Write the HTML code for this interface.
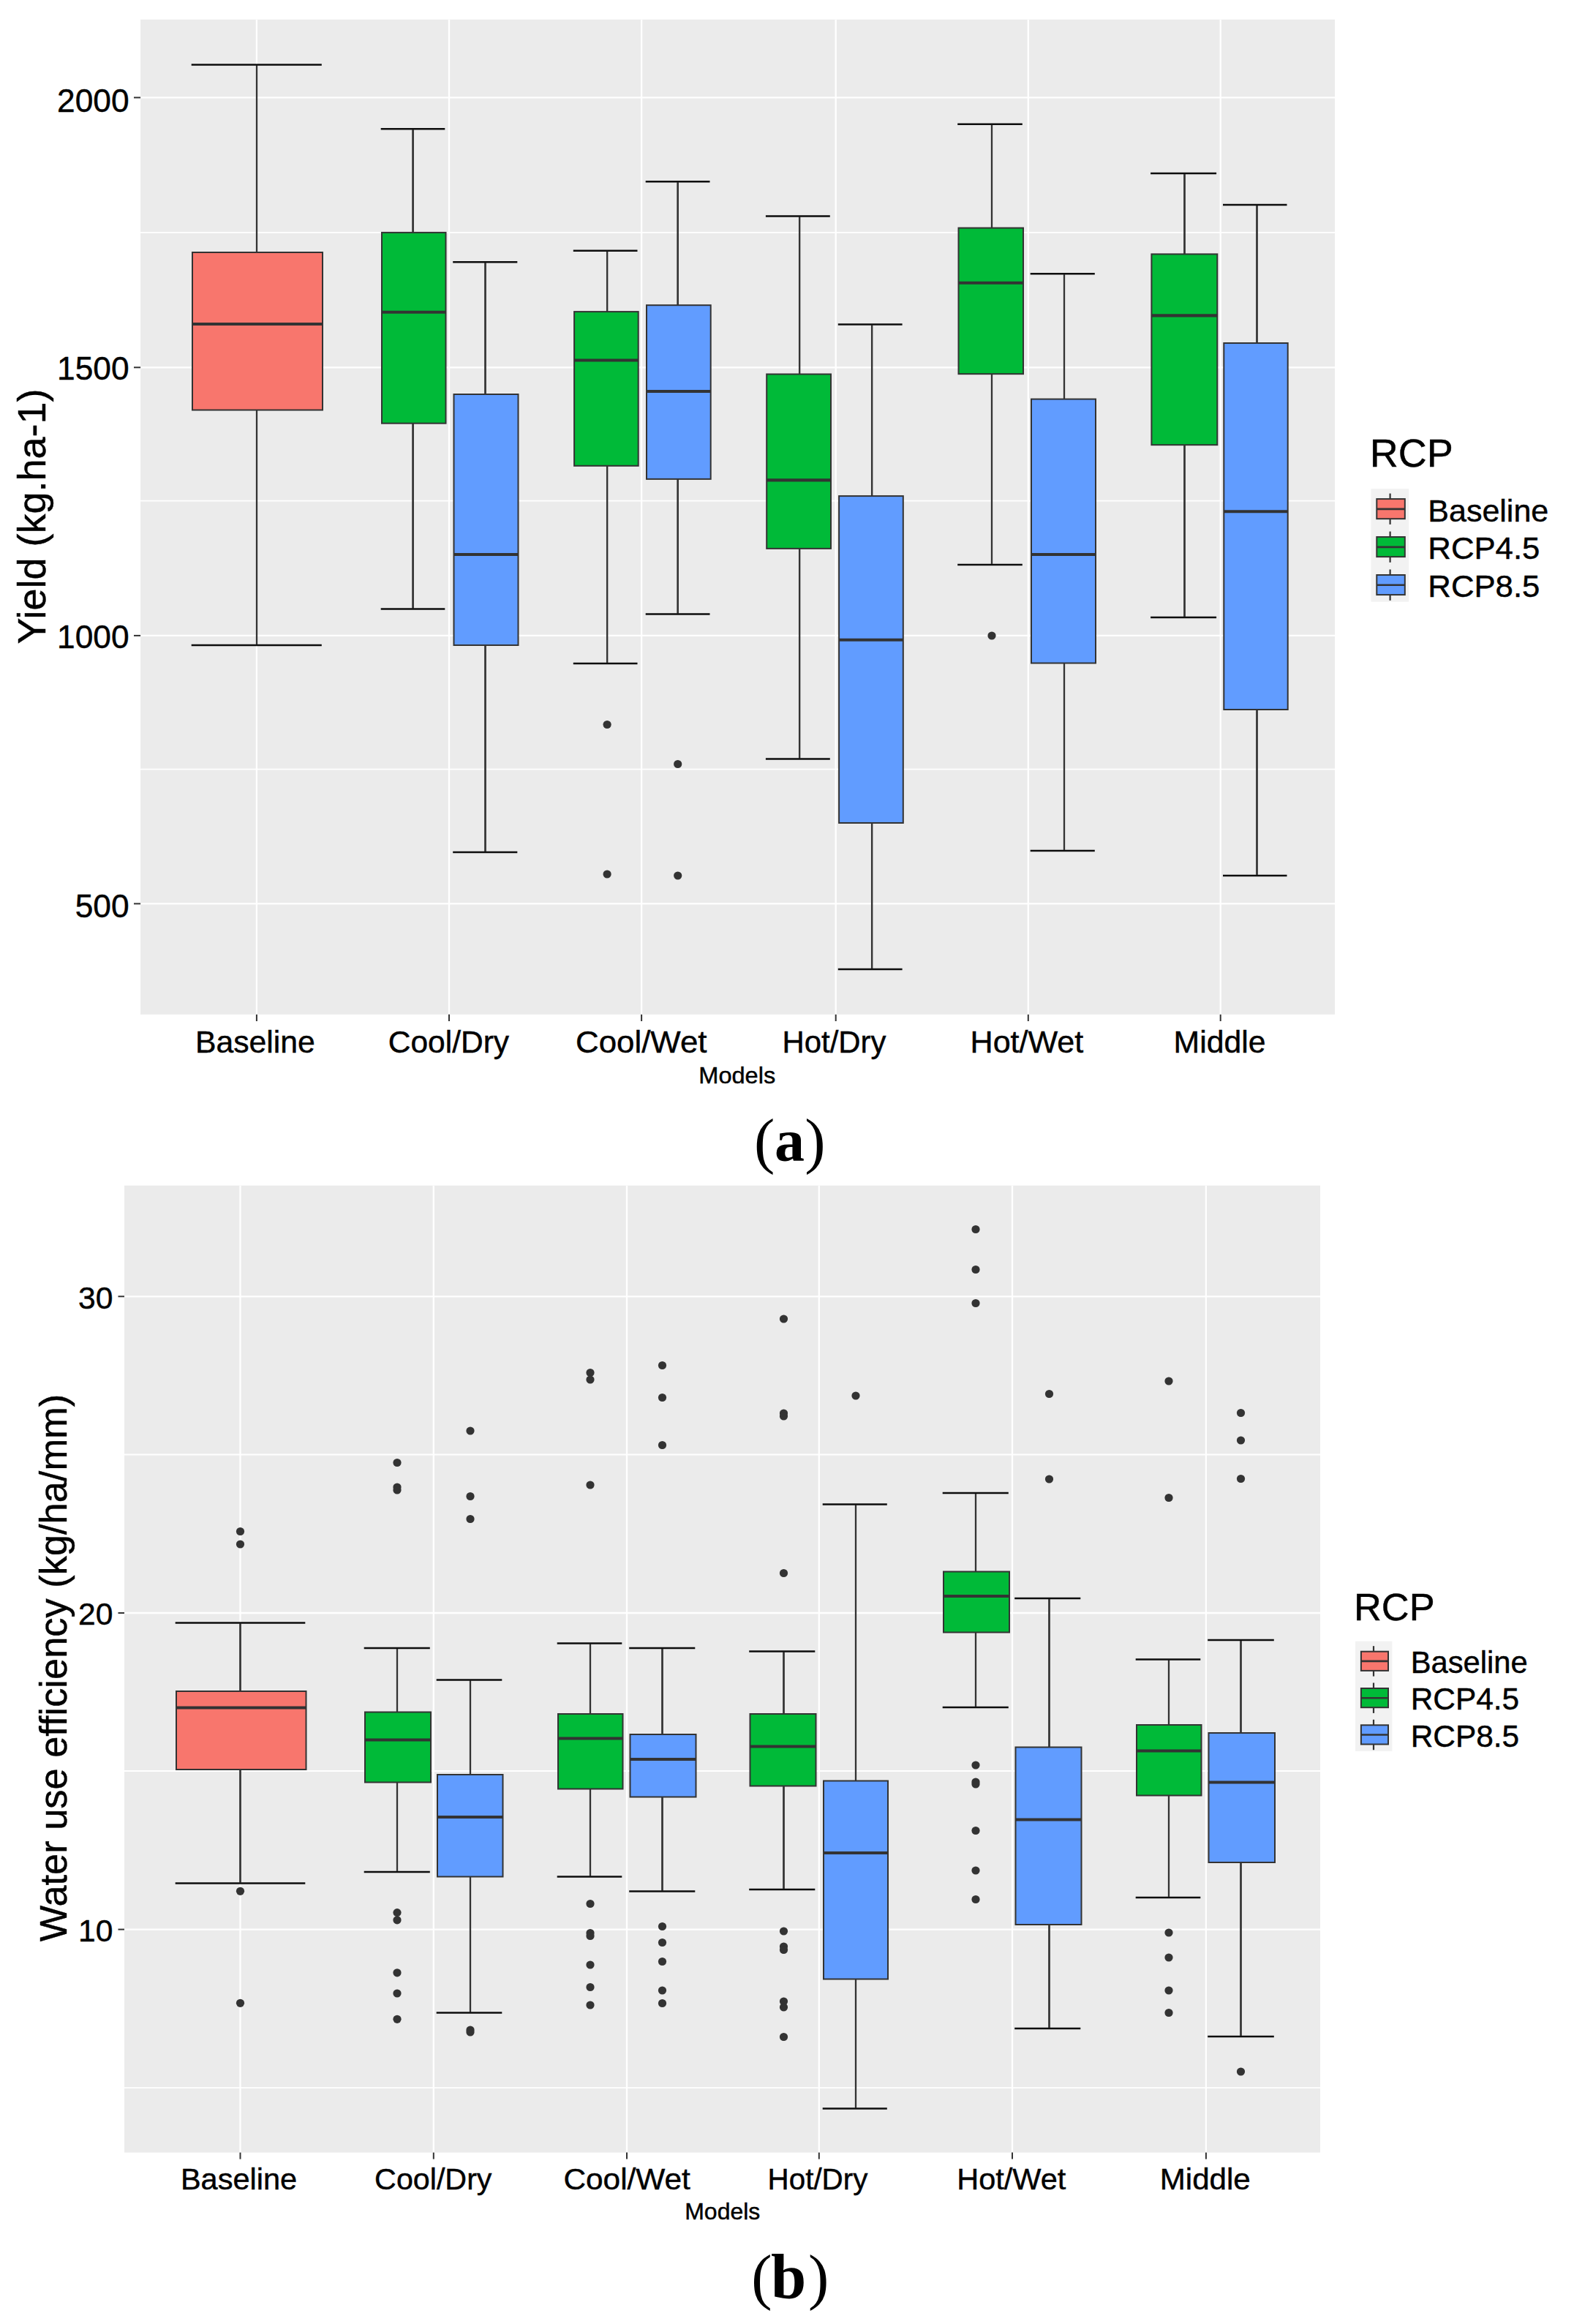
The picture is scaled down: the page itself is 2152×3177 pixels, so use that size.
<!DOCTYPE html>
<html lang="en">
<head>
<meta charset="utf-8">
<title>Yield and water use efficiency box plots</title>
<style>
html,body{margin:0;padding:0;background:#fff;}
body{width:2152px;height:3177px;overflow:hidden;}
svg{display:block;}
text{font-family:"Liberation Sans",Arial,Helvetica,sans-serif;stroke:#000;stroke-width:.45px;}
text.sr{font-family:"Liberation Serif","Times New Roman",serif;stroke:none;}
tspan.sb{font-weight:bold;}
</style>
</head>
<body>
<svg width="2152" height="3177" viewBox="0 0 2152 3177">
<rect width="2152" height="3177" fill="#fff"/>
<g id="plot-a">
<rect x="192.1" y="26.7" width="1632.9" height="1360.15" fill="#EBEBEB"/>
<line x1="192.1" x2="1825" y1="317.8" y2="317.8" stroke="#fff" stroke-width="1.8"/>
<line x1="192.1" x2="1825" y1="684.6" y2="684.6" stroke="#fff" stroke-width="1.8"/>
<line x1="192.1" x2="1825" y1="1051.6" y2="1051.6" stroke="#fff" stroke-width="1.8"/>
<line x1="192.1" x2="1825" y1="133.4" y2="133.4" stroke="#fff" stroke-width="2.3"/>
<line x1="192.1" x2="1825" y1="502.3" y2="502.3" stroke="#fff" stroke-width="2.3"/>
<line x1="192.1" x2="1825" y1="868.9" y2="868.9" stroke="#fff" stroke-width="2.3"/>
<line x1="192.1" x2="1825" y1="1235.4" y2="1235.4" stroke="#fff" stroke-width="2.3"/>
<line x1="350.9" x2="350.9" y1="26.7" y2="1386.85" stroke="#fff" stroke-width="2.3"/>
<line x1="614" x2="614" y1="26.7" y2="1386.85" stroke="#fff" stroke-width="2.3"/>
<line x1="877.1" x2="877.1" y1="26.7" y2="1386.85" stroke="#fff" stroke-width="2.3"/>
<line x1="1142.7" x2="1142.7" y1="26.7" y2="1386.85" stroke="#fff" stroke-width="2.3"/>
<line x1="1405.8" x2="1405.8" y1="26.7" y2="1386.85" stroke="#fff" stroke-width="2.3"/>
<line x1="1668.7" x2="1668.7" y1="26.7" y2="1386.85" stroke="#fff" stroke-width="2.3"/>
<g stroke="#333333" stroke-width="2">
<line x1="183" x2="192.1" y1="133.4" y2="133.4"/>
<line x1="183" x2="192.1" y1="502.3" y2="502.3"/>
<line x1="183" x2="192.1" y1="868.9" y2="868.9"/>
<line x1="183" x2="192.1" y1="1235.4" y2="1235.4"/>
<line x1="350.9" x2="350.9" y1="1386.85" y2="1396"/>
<line x1="614" x2="614" y1="1386.85" y2="1396"/>
<line x1="877.1" x2="877.1" y1="1386.85" y2="1396"/>
<line x1="1142.7" x2="1142.7" y1="1386.85" y2="1396"/>
<line x1="1405.8" x2="1405.8" y1="1386.85" y2="1396"/>
<line x1="1668.7" x2="1668.7" y1="1386.85" y2="1396"/>
</g>
<g stroke="#0d0d0d" stroke-width="2.5" fill="none">
<line x1="351" x2="351" y1="88.5" y2="882" stroke-width="2"/>
<line x1="261.7" x2="439.8" y1="88.5" y2="88.5"/>
<line x1="261.7" x2="439.8" y1="882" y2="882"/>
</g>
<line x1="351" x2="351" y1="89.5" y2="881" stroke="#333333" stroke-width="2.3"/>
<rect x="263" y="345" width="178" height="215.5" fill="#F8766D" stroke="#333333" stroke-width="2"/>
<line x1="263" x2="441" y1="443" y2="443" stroke="#333333" stroke-width="4.1"/>
<g stroke="#0d0d0d" stroke-width="2.5" fill="none">
<line x1="564.6" x2="564.6" y1="176.3" y2="832.5" stroke-width="2"/>
<line x1="520.7" x2="608.3" y1="176.3" y2="176.3"/>
<line x1="520.7" x2="608.3" y1="832.5" y2="832.5"/>
</g>
<line x1="564.6" x2="564.6" y1="177.3" y2="831.5" stroke="#333333" stroke-width="2.3"/>
<rect x="522" y="317.9" width="87.5" height="260.8" fill="#00BA38" stroke="#333333" stroke-width="2"/>
<line x1="522" x2="609.5" y1="426.7" y2="426.7" stroke="#333333" stroke-width="4.1"/>
<g stroke="#0d0d0d" stroke-width="2.5" fill="none">
<line x1="663.5" x2="663.5" y1="358.2" y2="1165" stroke-width="2"/>
<line x1="619.2" x2="707.3" y1="358.2" y2="358.2"/>
<line x1="619.2" x2="707.3" y1="1165" y2="1165"/>
</g>
<line x1="663.5" x2="663.5" y1="359.2" y2="1164" stroke="#333333" stroke-width="2.3"/>
<rect x="620.5" y="539" width="88" height="343" fill="#619CFF" stroke="#333333" stroke-width="2"/>
<line x1="620.5" x2="708.5" y1="758" y2="758" stroke="#333333" stroke-width="4.1"/>
<g stroke="#0d0d0d" stroke-width="2.5" fill="none">
<line x1="830.1" x2="830.1" y1="342.7" y2="907" stroke-width="2"/>
<line x1="783.8" x2="871.5" y1="342.7" y2="342.7"/>
<line x1="783.8" x2="871.5" y1="907" y2="907"/>
</g>
<line x1="830.1" x2="830.1" y1="343.7" y2="906" stroke="#333333" stroke-width="2.3"/>
<circle cx="830.1" cy="990.5" r="5.6" fill="#333333"/>
<circle cx="830.1" cy="1195" r="5.6" fill="#333333"/>
<rect x="785.1" y="426.1" width="87.6" height="210.7" fill="#00BA38" stroke="#333333" stroke-width="2"/>
<line x1="785.1" x2="872.7" y1="492.5" y2="492.5" stroke="#333333" stroke-width="4.1"/>
<g stroke="#0d0d0d" stroke-width="2.5" fill="none">
<line x1="926.7" x2="926.7" y1="248.3" y2="839.5" stroke-width="2"/>
<line x1="882.7" x2="970.5" y1="248.3" y2="248.3"/>
<line x1="882.7" x2="970.5" y1="839.5" y2="839.5"/>
</g>
<line x1="926.7" x2="926.7" y1="249.3" y2="838.5" stroke="#333333" stroke-width="2.3"/>
<circle cx="926.7" cy="1044.5" r="5.6" fill="#333333"/>
<circle cx="926.7" cy="1197" r="5.6" fill="#333333"/>
<rect x="884" y="417.2" width="87.7" height="237.7" fill="#619CFF" stroke="#333333" stroke-width="2"/>
<line x1="884" x2="971.7" y1="535" y2="535" stroke="#333333" stroke-width="4.1"/>
<g stroke="#0d0d0d" stroke-width="2.5" fill="none">
<line x1="1093.1" x2="1093.1" y1="295.5" y2="1037.5" stroke-width="2"/>
<line x1="1046.9" x2="1134.8" y1="295.5" y2="295.5"/>
<line x1="1046.9" x2="1134.8" y1="1037.5" y2="1037.5"/>
</g>
<line x1="1093.1" x2="1093.1" y1="296.5" y2="1036.5" stroke="#333333" stroke-width="2.3"/>
<rect x="1048.2" y="511.5" width="87.8" height="238.4" fill="#00BA38" stroke="#333333" stroke-width="2"/>
<line x1="1048.2" x2="1136" y1="656.4" y2="656.4" stroke="#333333" stroke-width="4.1"/>
<g stroke="#0d0d0d" stroke-width="2.5" fill="none">
<line x1="1192.1" x2="1192.1" y1="443.5" y2="1325" stroke-width="2"/>
<line x1="1145.8" x2="1233.6" y1="443.5" y2="443.5"/>
<line x1="1145.8" x2="1233.6" y1="1325" y2="1325"/>
</g>
<line x1="1192.1" x2="1192.1" y1="444.5" y2="1324" stroke="#333333" stroke-width="2.3"/>
<rect x="1147.1" y="678.1" width="87.7" height="446.9" fill="#619CFF" stroke="#333333" stroke-width="2"/>
<line x1="1147.1" x2="1234.8" y1="874.7" y2="874.7" stroke="#333333" stroke-width="4.1"/>
<g stroke="#0d0d0d" stroke-width="2.5" fill="none">
<line x1="1356" x2="1356" y1="169.8" y2="772" stroke-width="2"/>
<line x1="1309.2" x2="1397.8" y1="169.8" y2="169.8"/>
<line x1="1309.2" x2="1397.8" y1="772" y2="772"/>
</g>
<line x1="1356" x2="1356" y1="170.8" y2="771" stroke="#333333" stroke-width="2.3"/>
<circle cx="1356" cy="869" r="5.6" fill="#333333"/>
<rect x="1310.5" y="311.6" width="88.5" height="199.6" fill="#00BA38" stroke="#333333" stroke-width="2"/>
<line x1="1310.5" x2="1399" y1="386.7" y2="386.7" stroke="#333333" stroke-width="4.1"/>
<g stroke="#0d0d0d" stroke-width="2.5" fill="none">
<line x1="1455" x2="1455" y1="374.3" y2="1163" stroke-width="2"/>
<line x1="1408.7" x2="1496.8" y1="374.3" y2="374.3"/>
<line x1="1408.7" x2="1496.8" y1="1163" y2="1163"/>
</g>
<line x1="1455" x2="1455" y1="375.3" y2="1162" stroke="#333333" stroke-width="2.3"/>
<rect x="1410" y="545.6" width="88" height="360.9" fill="#619CFF" stroke="#333333" stroke-width="2"/>
<line x1="1410" x2="1498" y1="758" y2="758" stroke="#333333" stroke-width="4.1"/>
<g stroke="#0d0d0d" stroke-width="2.5" fill="none">
<line x1="1619.5" x2="1619.5" y1="237.1" y2="844" stroke-width="2"/>
<line x1="1573.1" x2="1663.1" y1="237.1" y2="237.1"/>
<line x1="1573.1" x2="1663.1" y1="844" y2="844"/>
</g>
<line x1="1619.5" x2="1619.5" y1="238.1" y2="843" stroke="#333333" stroke-width="2.3"/>
<rect x="1574.4" y="347.4" width="89.9" height="260.8" fill="#00BA38" stroke="#333333" stroke-width="2"/>
<line x1="1574.4" x2="1664.3" y1="431.4" y2="431.4" stroke="#333333" stroke-width="4.1"/>
<g stroke="#0d0d0d" stroke-width="2.5" fill="none">
<line x1="1718.5" x2="1718.5" y1="279.9" y2="1197" stroke-width="2"/>
<line x1="1672" x2="1759.5" y1="279.9" y2="279.9"/>
<line x1="1672" x2="1759.5" y1="1197" y2="1197"/>
</g>
<line x1="1718.5" x2="1718.5" y1="280.9" y2="1196" stroke="#333333" stroke-width="2.3"/>
<rect x="1673.3" y="469" width="87.4" height="501" fill="#619CFF" stroke="#333333" stroke-width="2"/>
<line x1="1673.3" x2="1760.7" y1="699.2" y2="699.2" stroke="#333333" stroke-width="4.1"/>
<text x="176.6" y="152.7" font-size="44.3" text-anchor="end" fill="#000">2000</text>
<text x="176.6" y="518.8" font-size="44.3" text-anchor="end" fill="#000">1500</text>
<text x="176.6" y="885.5" font-size="44.3" text-anchor="end" fill="#000">1000</text>
<text x="176.6" y="1254.1" font-size="44.3" text-anchor="end" fill="#000">500</text>
<text transform="translate(348.85,1438.6) scale(1.0050,1)" font-size="42.5" text-anchor="middle" fill="#000">Baseline</text>
<text x="613.4" y="1438.6" font-size="42.5" text-anchor="middle" fill="#000">Cool/Dry</text>
<text transform="translate(876.75,1438.6) scale(1.0320,1)" font-size="42.5" text-anchor="middle" fill="#000">Cool/Wet</text>
<text transform="translate(1140.5,1438.6) scale(0.9850,1)" font-size="42.5" text-anchor="middle" fill="#000">Hot/Dry</text>
<text transform="translate(1403.9,1438.6) scale(1.0130,1)" font-size="42.5" text-anchor="middle" fill="#000">Hot/Wet</text>
<text transform="translate(1667.5,1438.6) scale(1.0050,1)" font-size="42.5" text-anchor="middle" fill="#000">Middle</text>
<text transform="translate(1007.75,1481) scale(1.0340,1)" font-size="31.5" text-anchor="middle" fill="#000">Models</text>
<text x="0" y="0" font-size="54" text-anchor="middle" fill="#000" transform="translate(62,706) rotate(-90)">Yield (kg.ha-1)</text>
<rect x="1874.5" y="668.1" width="51.7" height="154.6" fill="#F2F2F2"/>
<text x="1872.8" y="638.4" font-size="54" fill="#000">RCP</text>
<line x1="1900.6" x2="1900.6" y1="674.6" y2="716.9" stroke="#333333" stroke-width="2.2"/>
<rect x="1882.3" y="682.1" width="38.5" height="27.1" fill="#F8766D" stroke="#333333" stroke-width="2"/>
<line x1="1882.3" x2="1920.8" y1="695.9" y2="695.9" stroke="#333333" stroke-width="2.6"/>
<text x="1952.3" y="712.7" font-size="43" fill="#000">Baseline</text>
<line x1="1900.6" x2="1900.6" y1="726.55" y2="768.85" stroke="#333333" stroke-width="2.2"/>
<rect x="1882.3" y="734.05" width="38.5" height="27.1" fill="#00BA38" stroke="#333333" stroke-width="2"/>
<line x1="1882.3" x2="1920.8" y1="747.85" y2="747.85" stroke="#333333" stroke-width="2.6"/>
<text transform="translate(1952.3,764) scale(1.0170,1)" font-size="43" fill="#000">RCP4.5</text>
<line x1="1900.6" x2="1900.6" y1="778.5" y2="820.8" stroke="#333333" stroke-width="2.2"/>
<rect x="1882.3" y="786" width="38.5" height="27.1" fill="#619CFF" stroke="#333333" stroke-width="2"/>
<line x1="1882.3" x2="1920.8" y1="799.8" y2="799.8" stroke="#333333" stroke-width="2.6"/>
<text transform="translate(1952.3,816) scale(1.0170,1)" font-size="43" fill="#000">RCP8.5</text>
</g>
<text class="sr" font-size="85" fill="#000"><tspan x="1031.1" y="1588">(</tspan><tspan class="sb" font-size="82" x="1059" y="1587">a</tspan><tspan x="1100.2" y="1588">)</tspan></text>
<g id="plot-b">
<rect x="170" y="1620.7" width="1635" height="1321.9" fill="#EBEBEB"/>
<line x1="170" x2="1805" y1="1988.5" y2="1988.5" stroke="#fff" stroke-width="1.8"/>
<line x1="170" x2="1805" y1="2421" y2="2421" stroke="#fff" stroke-width="1.8"/>
<line x1="170" x2="1805" y1="2854.2" y2="2854.2" stroke="#fff" stroke-width="1.8"/>
<line x1="170" x2="1805" y1="1772.3" y2="1772.3" stroke="#fff" stroke-width="2.3"/>
<line x1="170" x2="1805" y1="2205" y2="2205" stroke="#fff" stroke-width="2.3"/>
<line x1="170" x2="1805" y1="2637.6" y2="2637.6" stroke="#fff" stroke-width="2.3"/>
<line x1="328.5" x2="328.5" y1="1620.7" y2="2942.6" stroke="#fff" stroke-width="2.3"/>
<line x1="592.8" x2="592.8" y1="1620.7" y2="2942.6" stroke="#fff" stroke-width="2.3"/>
<line x1="857" x2="857" y1="1620.7" y2="2942.6" stroke="#fff" stroke-width="2.3"/>
<line x1="1119.8" x2="1119.8" y1="1620.7" y2="2942.6" stroke="#fff" stroke-width="2.3"/>
<line x1="1384" x2="1384" y1="1620.7" y2="2942.6" stroke="#fff" stroke-width="2.3"/>
<line x1="1648.9" x2="1648.9" y1="1620.7" y2="2942.6" stroke="#fff" stroke-width="2.3"/>
<g stroke="#333333" stroke-width="2">
<line x1="161.5" x2="170" y1="1772.3" y2="1772.3"/>
<line x1="161.5" x2="170" y1="2205" y2="2205"/>
<line x1="161.5" x2="170" y1="2637.6" y2="2637.6"/>
<line x1="328.5" x2="328.5" y1="2942.6" y2="2951.6"/>
<line x1="592.8" x2="592.8" y1="2942.6" y2="2951.6"/>
<line x1="857" x2="857" y1="2942.6" y2="2951.6"/>
<line x1="1119.8" x2="1119.8" y1="2942.6" y2="2951.6"/>
<line x1="1384" x2="1384" y1="2942.6" y2="2951.6"/>
<line x1="1648.9" x2="1648.9" y1="2942.6" y2="2951.6"/>
</g>
<g stroke="#0d0d0d" stroke-width="2.5" fill="none">
<line x1="328.5" x2="328.5" y1="2218.5" y2="2574.5" stroke-width="2"/>
<line x1="239.7" x2="417.3" y1="2218.5" y2="2218.5"/>
<line x1="239.7" x2="417.3" y1="2574.5" y2="2574.5"/>
</g>
<line x1="328.5" x2="328.5" y1="2219.5" y2="2573.5" stroke="#333333" stroke-width="2.3"/>
<circle cx="328.5" cy="2093.5" r="5.6" fill="#333333"/>
<circle cx="328.5" cy="2111" r="5.6" fill="#333333"/>
<circle cx="328.5" cy="2585.3" r="5.6" fill="#333333"/>
<circle cx="328.5" cy="2738.3" r="5.6" fill="#333333"/>
<rect x="241" y="2312" width="177.5" height="107" fill="#F8766D" stroke="#333333" stroke-width="2"/>
<line x1="241" x2="418.5" y1="2334.5" y2="2334.5" stroke="#333333" stroke-width="4.1"/>
<g stroke="#0d0d0d" stroke-width="2.5" fill="none">
<line x1="543" x2="543" y1="2253" y2="2559" stroke-width="2"/>
<line x1="497.7" x2="587.8" y1="2253" y2="2253"/>
<line x1="497.7" x2="587.8" y1="2559" y2="2559"/>
</g>
<line x1="543" x2="543" y1="2254" y2="2558" stroke="#333333" stroke-width="2.3"/>
<circle cx="543" cy="1999.5" r="5.6" fill="#333333"/>
<circle cx="543" cy="2033" r="5.6" fill="#333333"/>
<circle cx="543" cy="2037" r="5.6" fill="#333333"/>
<circle cx="543" cy="2614.6" r="5.6" fill="#333333"/>
<circle cx="543" cy="2624.8" r="5.6" fill="#333333"/>
<circle cx="543" cy="2696.8" r="5.6" fill="#333333"/>
<circle cx="543" cy="2725" r="5.6" fill="#333333"/>
<circle cx="543" cy="2760.3" r="5.6" fill="#333333"/>
<rect x="499" y="2340.5" width="90" height="96" fill="#00BA38" stroke="#333333" stroke-width="2"/>
<line x1="499" x2="589" y1="2378.5" y2="2378.5" stroke="#333333" stroke-width="4.1"/>
<g stroke="#0d0d0d" stroke-width="2.5" fill="none">
<line x1="643" x2="643" y1="2296.5" y2="2751.6" stroke-width="2"/>
<line x1="596.7" x2="686.3" y1="2296.5" y2="2296.5"/>
<line x1="596.7" x2="686.3" y1="2751.6" y2="2751.6"/>
</g>
<line x1="643" x2="643" y1="2297.5" y2="2750.6" stroke="#333333" stroke-width="2.3"/>
<circle cx="643" cy="1956" r="5.6" fill="#333333"/>
<circle cx="643" cy="2045.5" r="5.6" fill="#333333"/>
<circle cx="643" cy="2076.5" r="5.6" fill="#333333"/>
<circle cx="643" cy="2775" r="5.6" fill="#333333"/>
<circle cx="643" cy="2778" r="5.6" fill="#333333"/>
<rect x="598" y="2426" width="89.5" height="139.5" fill="#619CFF" stroke="#333333" stroke-width="2"/>
<line x1="598" x2="687.5" y1="2484" y2="2484" stroke="#333333" stroke-width="4.1"/>
<g stroke="#0d0d0d" stroke-width="2.5" fill="none">
<line x1="807" x2="807" y1="2246.5" y2="2565.5" stroke-width="2"/>
<line x1="761.7" x2="850.3" y1="2246.5" y2="2246.5"/>
<line x1="761.7" x2="850.3" y1="2565.5" y2="2565.5"/>
</g>
<line x1="807" x2="807" y1="2247.5" y2="2564.5" stroke="#333333" stroke-width="2.3"/>
<circle cx="807" cy="1876.5" r="5.6" fill="#333333"/>
<circle cx="807" cy="1886" r="5.6" fill="#333333"/>
<circle cx="807" cy="2030" r="5.6" fill="#333333"/>
<circle cx="807" cy="2602.5" r="5.6" fill="#333333"/>
<circle cx="807" cy="2642.5" r="5.6" fill="#333333"/>
<circle cx="807" cy="2646.5" r="5.6" fill="#333333"/>
<circle cx="807" cy="2686" r="5.6" fill="#333333"/>
<circle cx="807" cy="2716.5" r="5.6" fill="#333333"/>
<circle cx="807" cy="2741" r="5.6" fill="#333333"/>
<rect x="763" y="2343" width="88.5" height="102.5" fill="#00BA38" stroke="#333333" stroke-width="2"/>
<line x1="763" x2="851.5" y1="2376.5" y2="2376.5" stroke="#333333" stroke-width="4.1"/>
<g stroke="#0d0d0d" stroke-width="2.5" fill="none">
<line x1="905.5" x2="905.5" y1="2253" y2="2585.5" stroke-width="2"/>
<line x1="860.2" x2="950.3" y1="2253" y2="2253"/>
<line x1="860.2" x2="950.3" y1="2585.5" y2="2585.5"/>
</g>
<line x1="905.5" x2="905.5" y1="2254" y2="2584.5" stroke="#333333" stroke-width="2.3"/>
<circle cx="905.5" cy="1866.5" r="5.6" fill="#333333"/>
<circle cx="905.5" cy="1910.5" r="5.6" fill="#333333"/>
<circle cx="905.5" cy="1975.5" r="5.6" fill="#333333"/>
<circle cx="905.5" cy="2633.5" r="5.6" fill="#333333"/>
<circle cx="905.5" cy="2655.5" r="5.6" fill="#333333"/>
<circle cx="905.5" cy="2681.5" r="5.6" fill="#333333"/>
<circle cx="905.5" cy="2721" r="5.6" fill="#333333"/>
<circle cx="905.5" cy="2738.5" r="5.6" fill="#333333"/>
<rect x="861.5" y="2371" width="90" height="85.5" fill="#619CFF" stroke="#333333" stroke-width="2"/>
<line x1="861.5" x2="951.5" y1="2405" y2="2405" stroke="#333333" stroke-width="4.1"/>
<g stroke="#0d0d0d" stroke-width="2.5" fill="none">
<line x1="1071.5" x2="1071.5" y1="2257.5" y2="2583" stroke-width="2"/>
<line x1="1024.2" x2="1114.3" y1="2257.5" y2="2257.5"/>
<line x1="1024.2" x2="1114.3" y1="2583" y2="2583"/>
</g>
<line x1="1071.5" x2="1071.5" y1="2258.5" y2="2582" stroke="#333333" stroke-width="2.3"/>
<circle cx="1071.5" cy="1803" r="5.6" fill="#333333"/>
<circle cx="1071.5" cy="1932" r="5.6" fill="#333333"/>
<circle cx="1071.5" cy="1936" r="5.6" fill="#333333"/>
<circle cx="1071.5" cy="2150.5" r="5.6" fill="#333333"/>
<circle cx="1071.5" cy="2640" r="5.6" fill="#333333"/>
<circle cx="1071.5" cy="2661" r="5.6" fill="#333333"/>
<circle cx="1071.5" cy="2665.5" r="5.6" fill="#333333"/>
<circle cx="1071.5" cy="2736" r="5.6" fill="#333333"/>
<circle cx="1071.5" cy="2744" r="5.6" fill="#333333"/>
<circle cx="1071.5" cy="2784.5" r="5.6" fill="#333333"/>
<rect x="1025.5" y="2343" width="90" height="98.5" fill="#00BA38" stroke="#333333" stroke-width="2"/>
<line x1="1025.5" x2="1115.5" y1="2387.5" y2="2387.5" stroke="#333333" stroke-width="4.1"/>
<g stroke="#0d0d0d" stroke-width="2.5" fill="none">
<line x1="1170" x2="1170" y1="2056.5" y2="2882.5" stroke-width="2"/>
<line x1="1124.7" x2="1212.8" y1="2056.5" y2="2056.5"/>
<line x1="1124.7" x2="1212.8" y1="2882.5" y2="2882.5"/>
</g>
<line x1="1170" x2="1170" y1="2057.5" y2="2881.5" stroke="#333333" stroke-width="2.3"/>
<circle cx="1170" cy="1908" r="5.6" fill="#333333"/>
<rect x="1126" y="2434.5" width="88" height="271" fill="#619CFF" stroke="#333333" stroke-width="2"/>
<line x1="1126" x2="1214" y1="2533" y2="2533" stroke="#333333" stroke-width="4.1"/>
<g stroke="#0d0d0d" stroke-width="2.5" fill="none">
<line x1="1334" x2="1334" y1="2041" y2="2334" stroke-width="2"/>
<line x1="1288.7" x2="1378.8" y1="2041" y2="2041"/>
<line x1="1288.7" x2="1378.8" y1="2334" y2="2334"/>
</g>
<line x1="1334" x2="1334" y1="2042" y2="2333" stroke="#333333" stroke-width="2.3"/>
<circle cx="1334" cy="1680.5" r="5.6" fill="#333333"/>
<circle cx="1334" cy="1735.5" r="5.6" fill="#333333"/>
<circle cx="1334" cy="1781.5" r="5.6" fill="#333333"/>
<circle cx="1334" cy="2413" r="5.6" fill="#333333"/>
<circle cx="1334" cy="2436" r="5.6" fill="#333333"/>
<circle cx="1334" cy="2439" r="5.6" fill="#333333"/>
<circle cx="1334" cy="2502.5" r="5.6" fill="#333333"/>
<circle cx="1334" cy="2557" r="5.6" fill="#333333"/>
<circle cx="1334" cy="2596.5" r="5.6" fill="#333333"/>
<rect x="1290" y="2148.5" width="90" height="83" fill="#00BA38" stroke="#333333" stroke-width="2"/>
<line x1="1290" x2="1380" y1="2182" y2="2182" stroke="#333333" stroke-width="4.1"/>
<g stroke="#0d0d0d" stroke-width="2.5" fill="none">
<line x1="1434.5" x2="1434.5" y1="2185" y2="2773" stroke-width="2"/>
<line x1="1387.2" x2="1477.3" y1="2185" y2="2185"/>
<line x1="1387.2" x2="1477.3" y1="2773" y2="2773"/>
</g>
<line x1="1434.5" x2="1434.5" y1="2186" y2="2772" stroke="#333333" stroke-width="2.3"/>
<circle cx="1434.5" cy="1905.5" r="5.6" fill="#333333"/>
<circle cx="1434.5" cy="2022" r="5.6" fill="#333333"/>
<rect x="1388.5" y="2388.5" width="90" height="242.5" fill="#619CFF" stroke="#333333" stroke-width="2"/>
<line x1="1388.5" x2="1478.5" y1="2487.5" y2="2487.5" stroke="#333333" stroke-width="4.1"/>
<g stroke="#0d0d0d" stroke-width="2.5" fill="none">
<line x1="1598" x2="1598" y1="2268.5" y2="2594" stroke-width="2"/>
<line x1="1552.7" x2="1641.3" y1="2268.5" y2="2268.5"/>
<line x1="1552.7" x2="1641.3" y1="2594" y2="2594"/>
</g>
<line x1="1598" x2="1598" y1="2269.5" y2="2593" stroke="#333333" stroke-width="2.3"/>
<circle cx="1598" cy="1888" r="5.6" fill="#333333"/>
<circle cx="1598" cy="2047.5" r="5.6" fill="#333333"/>
<circle cx="1598" cy="2642" r="5.6" fill="#333333"/>
<circle cx="1598" cy="2676" r="5.6" fill="#333333"/>
<circle cx="1598" cy="2721" r="5.6" fill="#333333"/>
<circle cx="1598" cy="2751.5" r="5.6" fill="#333333"/>
<rect x="1554" y="2358" width="88.5" height="96.5" fill="#00BA38" stroke="#333333" stroke-width="2"/>
<line x1="1554" x2="1642.5" y1="2393.5" y2="2393.5" stroke="#333333" stroke-width="4.1"/>
<g stroke="#0d0d0d" stroke-width="2.5" fill="none">
<line x1="1696.5" x2="1696.5" y1="2242" y2="2784" stroke-width="2"/>
<line x1="1651.2" x2="1741.8" y1="2242" y2="2242"/>
<line x1="1651.2" x2="1741.8" y1="2784" y2="2784"/>
</g>
<line x1="1696.5" x2="1696.5" y1="2243" y2="2783" stroke="#333333" stroke-width="2.3"/>
<circle cx="1696.5" cy="1931.5" r="5.6" fill="#333333"/>
<circle cx="1696.5" cy="1969" r="5.6" fill="#333333"/>
<circle cx="1696.5" cy="2021.5" r="5.6" fill="#333333"/>
<circle cx="1696.5" cy="2832" r="5.6" fill="#333333"/>
<rect x="1652.5" y="2369" width="90.5" height="177" fill="#619CFF" stroke="#333333" stroke-width="2"/>
<line x1="1652.5" x2="1743" y1="2436.5" y2="2436.5" stroke="#333333" stroke-width="4.1"/>
<text x="154.5" y="1788.6" font-size="42.6" text-anchor="end" fill="#000">30</text>
<text x="154.5" y="2221.2" font-size="42.6" text-anchor="end" fill="#000">20</text>
<text x="154.5" y="2653.7" font-size="42.6" text-anchor="end" fill="#000">10</text>
<text transform="translate(326.55,2993) scale(1.0130,1)" font-size="41" text-anchor="middle" fill="#000">Baseline</text>
<text transform="translate(592.3,2993) scale(1.0060,1)" font-size="41" text-anchor="middle" fill="#000">Cool/Dry</text>
<text transform="translate(857.15,2993) scale(1.0340,1)" font-size="41" text-anchor="middle" fill="#000">Cool/Wet</text>
<text transform="translate(1118,2993) scale(0.9850,1)" font-size="41" text-anchor="middle" fill="#000">Hot/Dry</text>
<text transform="translate(1382.75,2993) scale(1.0120,1)" font-size="41" text-anchor="middle" fill="#000">Hot/Wet</text>
<text transform="translate(1647.75,2993) scale(1.0270,1)" font-size="41" text-anchor="middle" fill="#000">Middle</text>
<text transform="translate(987.75,3034) scale(1.0350,1)" font-size="30.9" text-anchor="middle" fill="#000">Models</text>
<text x="0" y="0" font-size="52.4" text-anchor="middle" fill="#000" transform="translate(91.3,2280) rotate(-90)">Water use efficiency (kg/ha/mm)</text>
<rect x="1853" y="2243.7" width="50.4" height="150.3" fill="#F2F2F2"/>
<text x="1851" y="2214.9" font-size="52.4" fill="#000">RCP</text>
<line x1="1878" x2="1878" y1="2250.2" y2="2291.6" stroke="#333333" stroke-width="2.2"/>
<rect x="1860.9" y="2257.7" width="37.1" height="26.2" fill="#F8766D" stroke="#333333" stroke-width="2"/>
<line x1="1860.9" x2="1898" y1="2270.9" y2="2270.9" stroke="#333333" stroke-width="2.6"/>
<text x="1928.7" y="2286.9" font-size="41.7" fill="#000">Baseline</text>
<line x1="1878" x2="1878" y1="2300.5" y2="2341.9" stroke="#333333" stroke-width="2.2"/>
<rect x="1860.9" y="2308" width="37.1" height="26.2" fill="#00BA38" stroke="#333333" stroke-width="2"/>
<line x1="1860.9" x2="1898" y1="2321.2" y2="2321.2" stroke="#333333" stroke-width="2.6"/>
<text transform="translate(1928.7,2337.4) scale(1.0170,1)" font-size="41.7" fill="#000">RCP4.5</text>
<line x1="1878" x2="1878" y1="2350.8" y2="2392.2" stroke="#333333" stroke-width="2.2"/>
<rect x="1860.9" y="2358.3" width="37.1" height="26.2" fill="#619CFF" stroke="#333333" stroke-width="2"/>
<line x1="1860.9" x2="1898" y1="2371.5" y2="2371.5" stroke="#333333" stroke-width="2.6"/>
<text transform="translate(1928.7,2387.5) scale(1.0170,1)" font-size="41.7" fill="#000">RCP8.5</text>
</g>
<text class="sr" font-size="85" fill="#000"><tspan x="1027.3" y="3141.05">(</tspan><tspan class="sb" font-size="86.8" x="1054" y="3141">b</tspan><tspan x="1105" y="3141.05">)</tspan></text>
</svg>
</body>
</html>
